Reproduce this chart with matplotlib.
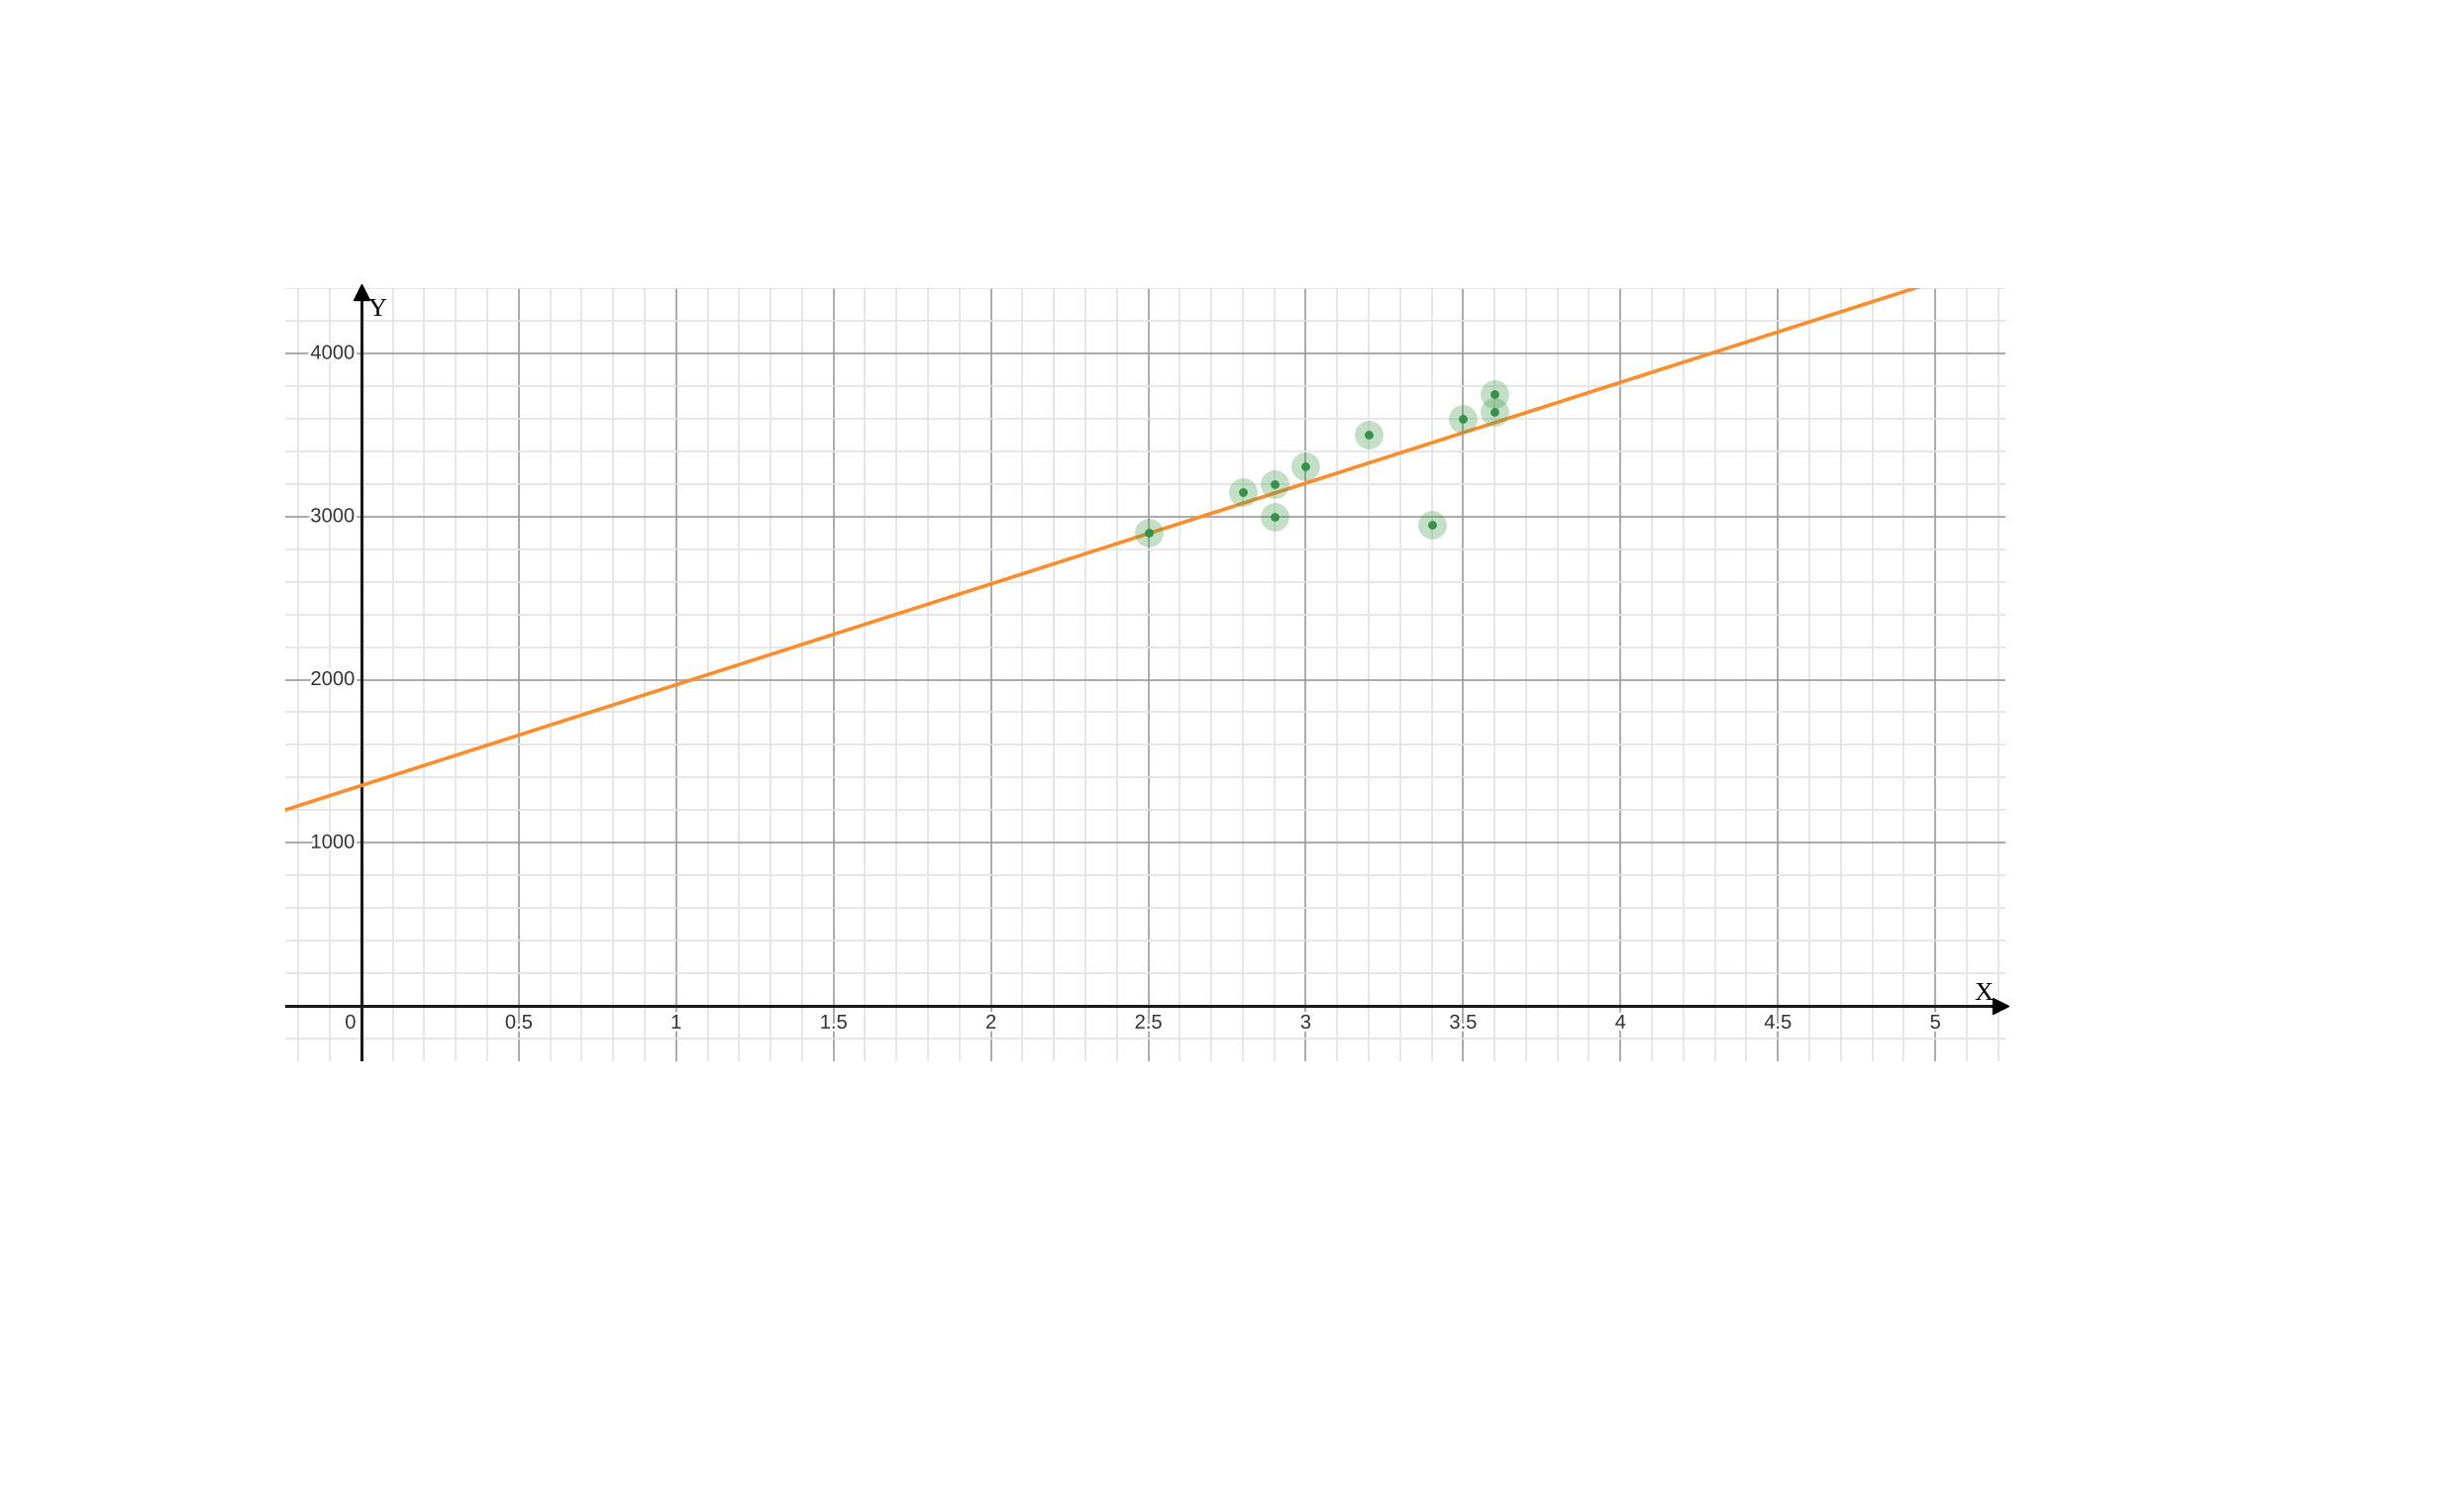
import matplotlib.pyplot as plt
import matplotlib.patheffects as pe
import numpy as np

# points
x_pts = [2.5, 2.8, 2.9, 2.9, 3.0, 3.2, 3.4, 3.5, 3.6, 3.6]
y_pts = [2900, 3150, 3200, 3000, 3310, 3500, 2950, 3600, 3750, 3640]

# fitted line y = a*x + b
slope = 618
intercept = 1351

x_labels = ["0.5", "1", "1.5", "2", "2.5", "3", "3.5", "4", "4.5", "5"]
x_label_pos = [0.5, 1, 1.5, 2, 2.5, 3, 3.5, 4, 4.5, 5]
y_labels = ["1000", "2000", "3000", "4000"]
y_label_pos = [1000, 2000, 3000, 4000]

x_min, x_max = -0.242, 5.223
y_min, y_max = -340, 4401

fig = plt.figure(figsize=(24.88, 15.04), dpi=100)
ax = fig.add_axes([288 / 2488, 1 - 1072 / 1504, (2025 - 288) / 2488, (1072 - 291) / 1504])
ax.set_xlim(x_min, x_max)
ax.set_ylim(y_min, y_max)

# grid
ax.set_xticks(np.arange(-0.2, 5.25, 0.1), minor=True)
ax.set_yticks(np.arange(-200, 4401, 200), minor=True)
ax.set_xticks(np.arange(0, 5.25, 0.5))
ax.set_yticks(np.arange(0, 4401, 1000))
ax.grid(which="minor", color="#e3e3e3", lw=1.2)
ax.grid(which="major", color="#9c9c9c", lw=1.2)
ax.tick_params(which="both", length=0, labelbottom=False, labelleft=False)
ax.set_axisbelow(True)
for s in ax.spines.values():
    s.set_visible(False)

# axes with arrows
ax.axhline(0, color="#1a1a1a", lw=2.2, zorder=2)
ax.axvline(0, color="#1a1a1a", lw=2.2, zorder=2)
ax.plot(0.9971, 0, ">", color="black", ms=11, transform=ax.get_yaxis_transform(), clip_on=False, zorder=3)
ax.plot(0, 0.9949, "^", color="black", ms=11, transform=ax.get_xaxis_transform(), clip_on=False, zorder=3)

lab_font = "Liberation Sans"
halo = [pe.withStroke(linewidth=4, foreground="white")]
for xp, lab in zip(x_label_pos, x_labels):
    ax.annotate(lab, (xp, 0), xytext=(0, -12.5), textcoords="offset points",
                ha="center", va="center", fontsize=14.5, color="#333333",
                family=lab_font, path_effects=halo, zorder=4)
ax.annotate("0", (0, 0), xytext=(-8, -12.5), textcoords="offset points",
            ha="center", va="center", fontsize=14.5, color="#333333",
            family=lab_font, path_effects=halo, zorder=4)
for yp, lab in zip(y_label_pos, y_labels):
    ax.annotate(lab, (0, yp), xytext=(-5, 0), textcoords="offset points",
                ha="right", va="center", fontsize=14.5, color="#333333",
                family=lab_font, path_effects=halo, zorder=4)

ax.text(0.02, 4265, "Y", fontsize=19, family="Liberation Serif", color="black",
        ha="left", va="center", zorder=4)
ax.text(5.154, 70, "X", fontsize=19, family="Liberation Serif", color="black",
        ha="center", va="center", zorder=4)

# regression line
xs = np.array([x_min, x_max])
ax.plot(xs, slope * xs + intercept, color="#ff8c2a", lw=2.6, zorder=5)

# points
ax.scatter(x_pts, y_pts, s=430, color="#3a9a48", alpha=0.3, linewidths=0, zorder=6)
ax.scatter(x_pts, y_pts, s=40, color="#38914a", linewidths=0, zorder=7)

fig.savefig("out.png", dpi=100)
